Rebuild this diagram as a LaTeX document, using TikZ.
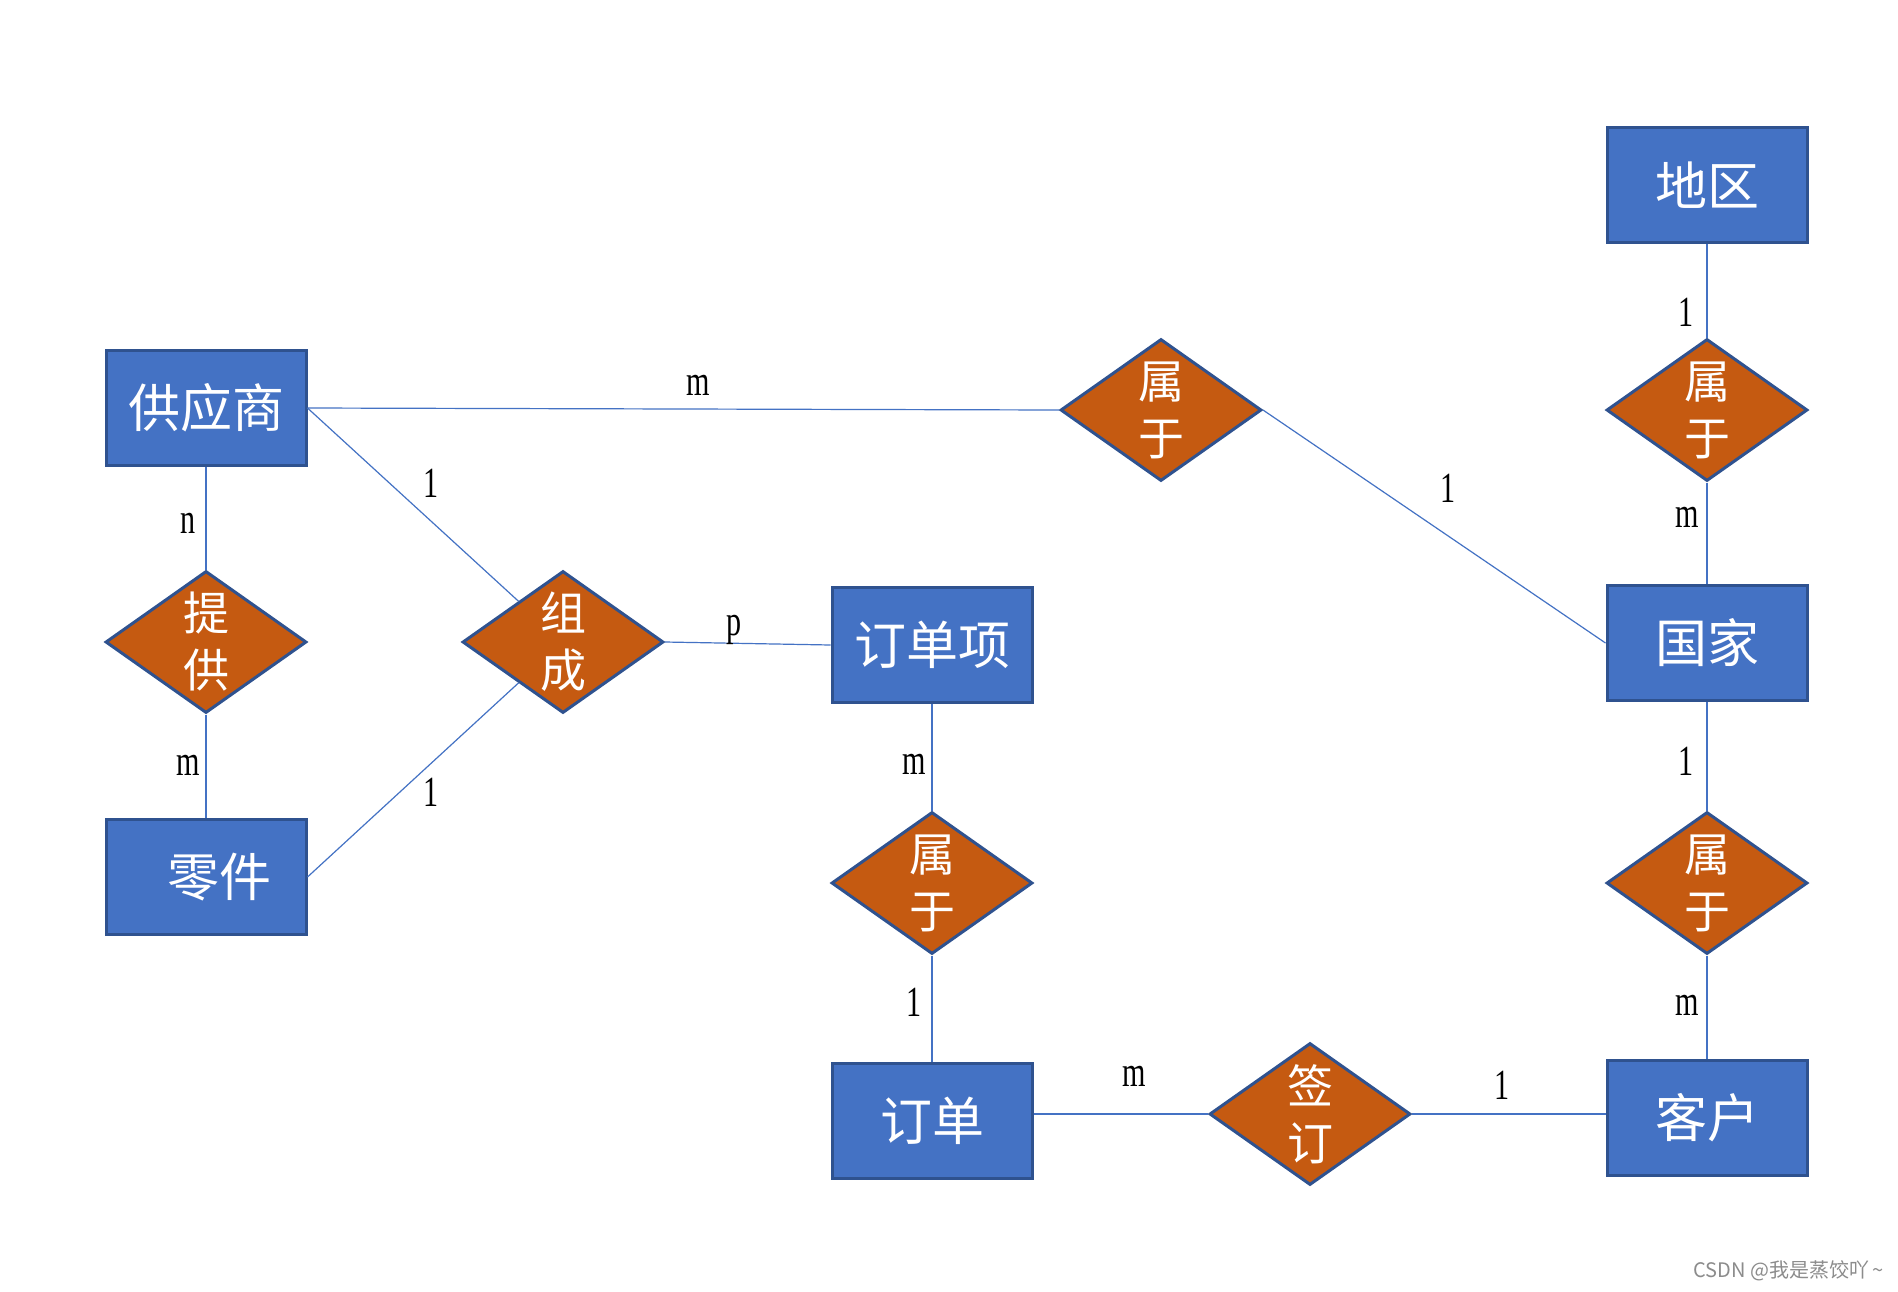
\documentclass[tikz,border=0pt]{standalone}
\usepackage{fontspec}
\usetikzlibrary{shapes.geometric}
\newfontfamily\cjk{Noto Sans CJK SC}
\newfontfamily\lblfont{Liberation Serif}
\definecolor{entfill}{HTML}{4472C4}
\definecolor{entdraw}{HTML}{2F528F}
\definecolor{relfill}{HTML}{C55A11}
\definecolor{conn}{HTML}{4472C4}
\newcommand\lbtxt[1]{\scalebox{0.7}[1]{#1}}
\begin{document}
\begin{tikzpicture}[x=1pt,y=-1pt,
  entity/.style={rectangle, fill=entfill, draw=entdraw, line width=3pt,
    minimum width=200pt, minimum height=115pt, inner sep=0pt,
    text=white, font=\cjk\fontsize{52}{60}\selectfont},
  rel/.style={diamond, fill=relfill, draw=entdraw, line width=3pt,
    minimum width=201pt, minimum height=142pt, inner sep=0pt},
  reltext/.style={text=white, align=center, inner sep=0pt,
    font=\cjk\fontsize{46}{57}\selectfont},
  conline/.style={draw=conn, line width=1.2pt},
  lbl/.style={inner sep=0pt, text=black, font=\lblfont\fontsize{43}{43}\selectfont}
]
\useasboundingbox (0,0) rectangle (1898,1291);
\fill[white] (0,0) rectangle (1898,1291);

% entities
\node[entity] (sup) at (206,408) {供应商};
\node[entity] (lj) at (206,877) {\hspace*{26pt}零件};
\node[entity] (ddx) at (932,645) {订单项};
\node[entity] (dq) at (1707,185) {地区};
\node[entity] (gj) at (1707,643) {国家};
\node[entity] (kh) at (1707,1118) {客户};
\node[entity] (dd) at (932,1121) {订单};

% relationships
\node[rel] (tg) at (206,642) {};
\node[reltext] (tgt) at (tg) {提\\供};
\node[rel] (zc) at (563,642) {};
\node[reltext] (zct) at (zc) {组\\成};
\node[rel] (r1) at (1161,410) {};
\node[reltext] (r1t) at (r1) {属\\于};
\node[rel] (r2) at (1707,410) {};
\node[reltext] (r2t) at (r2) {属\\于};
\node[rel] (r3) at (1707,883) {};
\node[reltext] (r3t) at (r3) {属\\于};
\node[rel] (r4) at (932,883) {};
\node[reltext] (r4t) at (r4) {属\\于};
\node[rel] (qd) at (1310,1114) {};
\node[reltext] (qdt) at (qd) {签\\订};

% connectors
\draw[conline] (sup.south) -- (tg.north);
\draw[conline] (tg.south) -- (lj.north);
\draw[conline] (sup.east) -- (r1.west);
\draw[conline] (r1.east) -- (gj.west);
\draw[conline] (sup.east) -- (zc);
\draw[conline] (lj.east) -- (zc);
\draw[conline] (zc.east) -- (ddx.west);
\draw[conline] (dq.south) -- (r2.north);
\draw[conline] (r2.south) -- (gj.north);
\draw[conline] (gj.south) -- (r3.north);
\draw[conline] (r3.south) -- (kh.north);
\draw[conline] (ddx.south) -- (r4.north);
\draw[conline] (r4.south) -- (dd.north);
\draw[conline] (qd.west -| dd.east) -- (qd.west);
\draw[conline] (qd.east) -- (qd.east -| kh.west);

% cardinality labels
\node[lbl] (l1) at (188,523) {\lbtxt{n}};
\node[lbl] (l2) at (188,765) {\lbtxt{m}};
\node[lbl] (l3) at (698,385) {\lbtxt{m}};
\node[lbl] (l4) at (431,483) {\lbtxt{1}};
\node[lbl] (l5) at (431,792) {\lbtxt{1}};
\node[lbl] (l6) at (734,630) {\lbtxt{p}};
\node[lbl] (l7) at (1448,488) {\lbtxt{1}};
\node[lbl] (l8) at (1686,312) {\lbtxt{1}};
\node[lbl] (l9) at (1687,517) {\lbtxt{m}};
\node[lbl] (l10) at (1686,761) {\lbtxt{1}};
\node[lbl] (l11) at (1687,1005) {\lbtxt{m}};
\node[lbl] (l12) at (914,764) {\lbtxt{m}};
\node[lbl] (l13) at (914,1002) {\lbtxt{1}};
\node[lbl] (l14) at (1134,1076) {\lbtxt{m}};
\node[lbl] (l15) at (1502,1085) {\lbtxt{1}};

% watermark
\node[anchor=east, inner sep=0pt, text=black!45, font=\cjk\fontsize{20}{22}\selectfont] (wm) at (1884,1271) {CSDN @我是蒸饺吖\,\textasciitilde};
\end{tikzpicture}
\end{document}
